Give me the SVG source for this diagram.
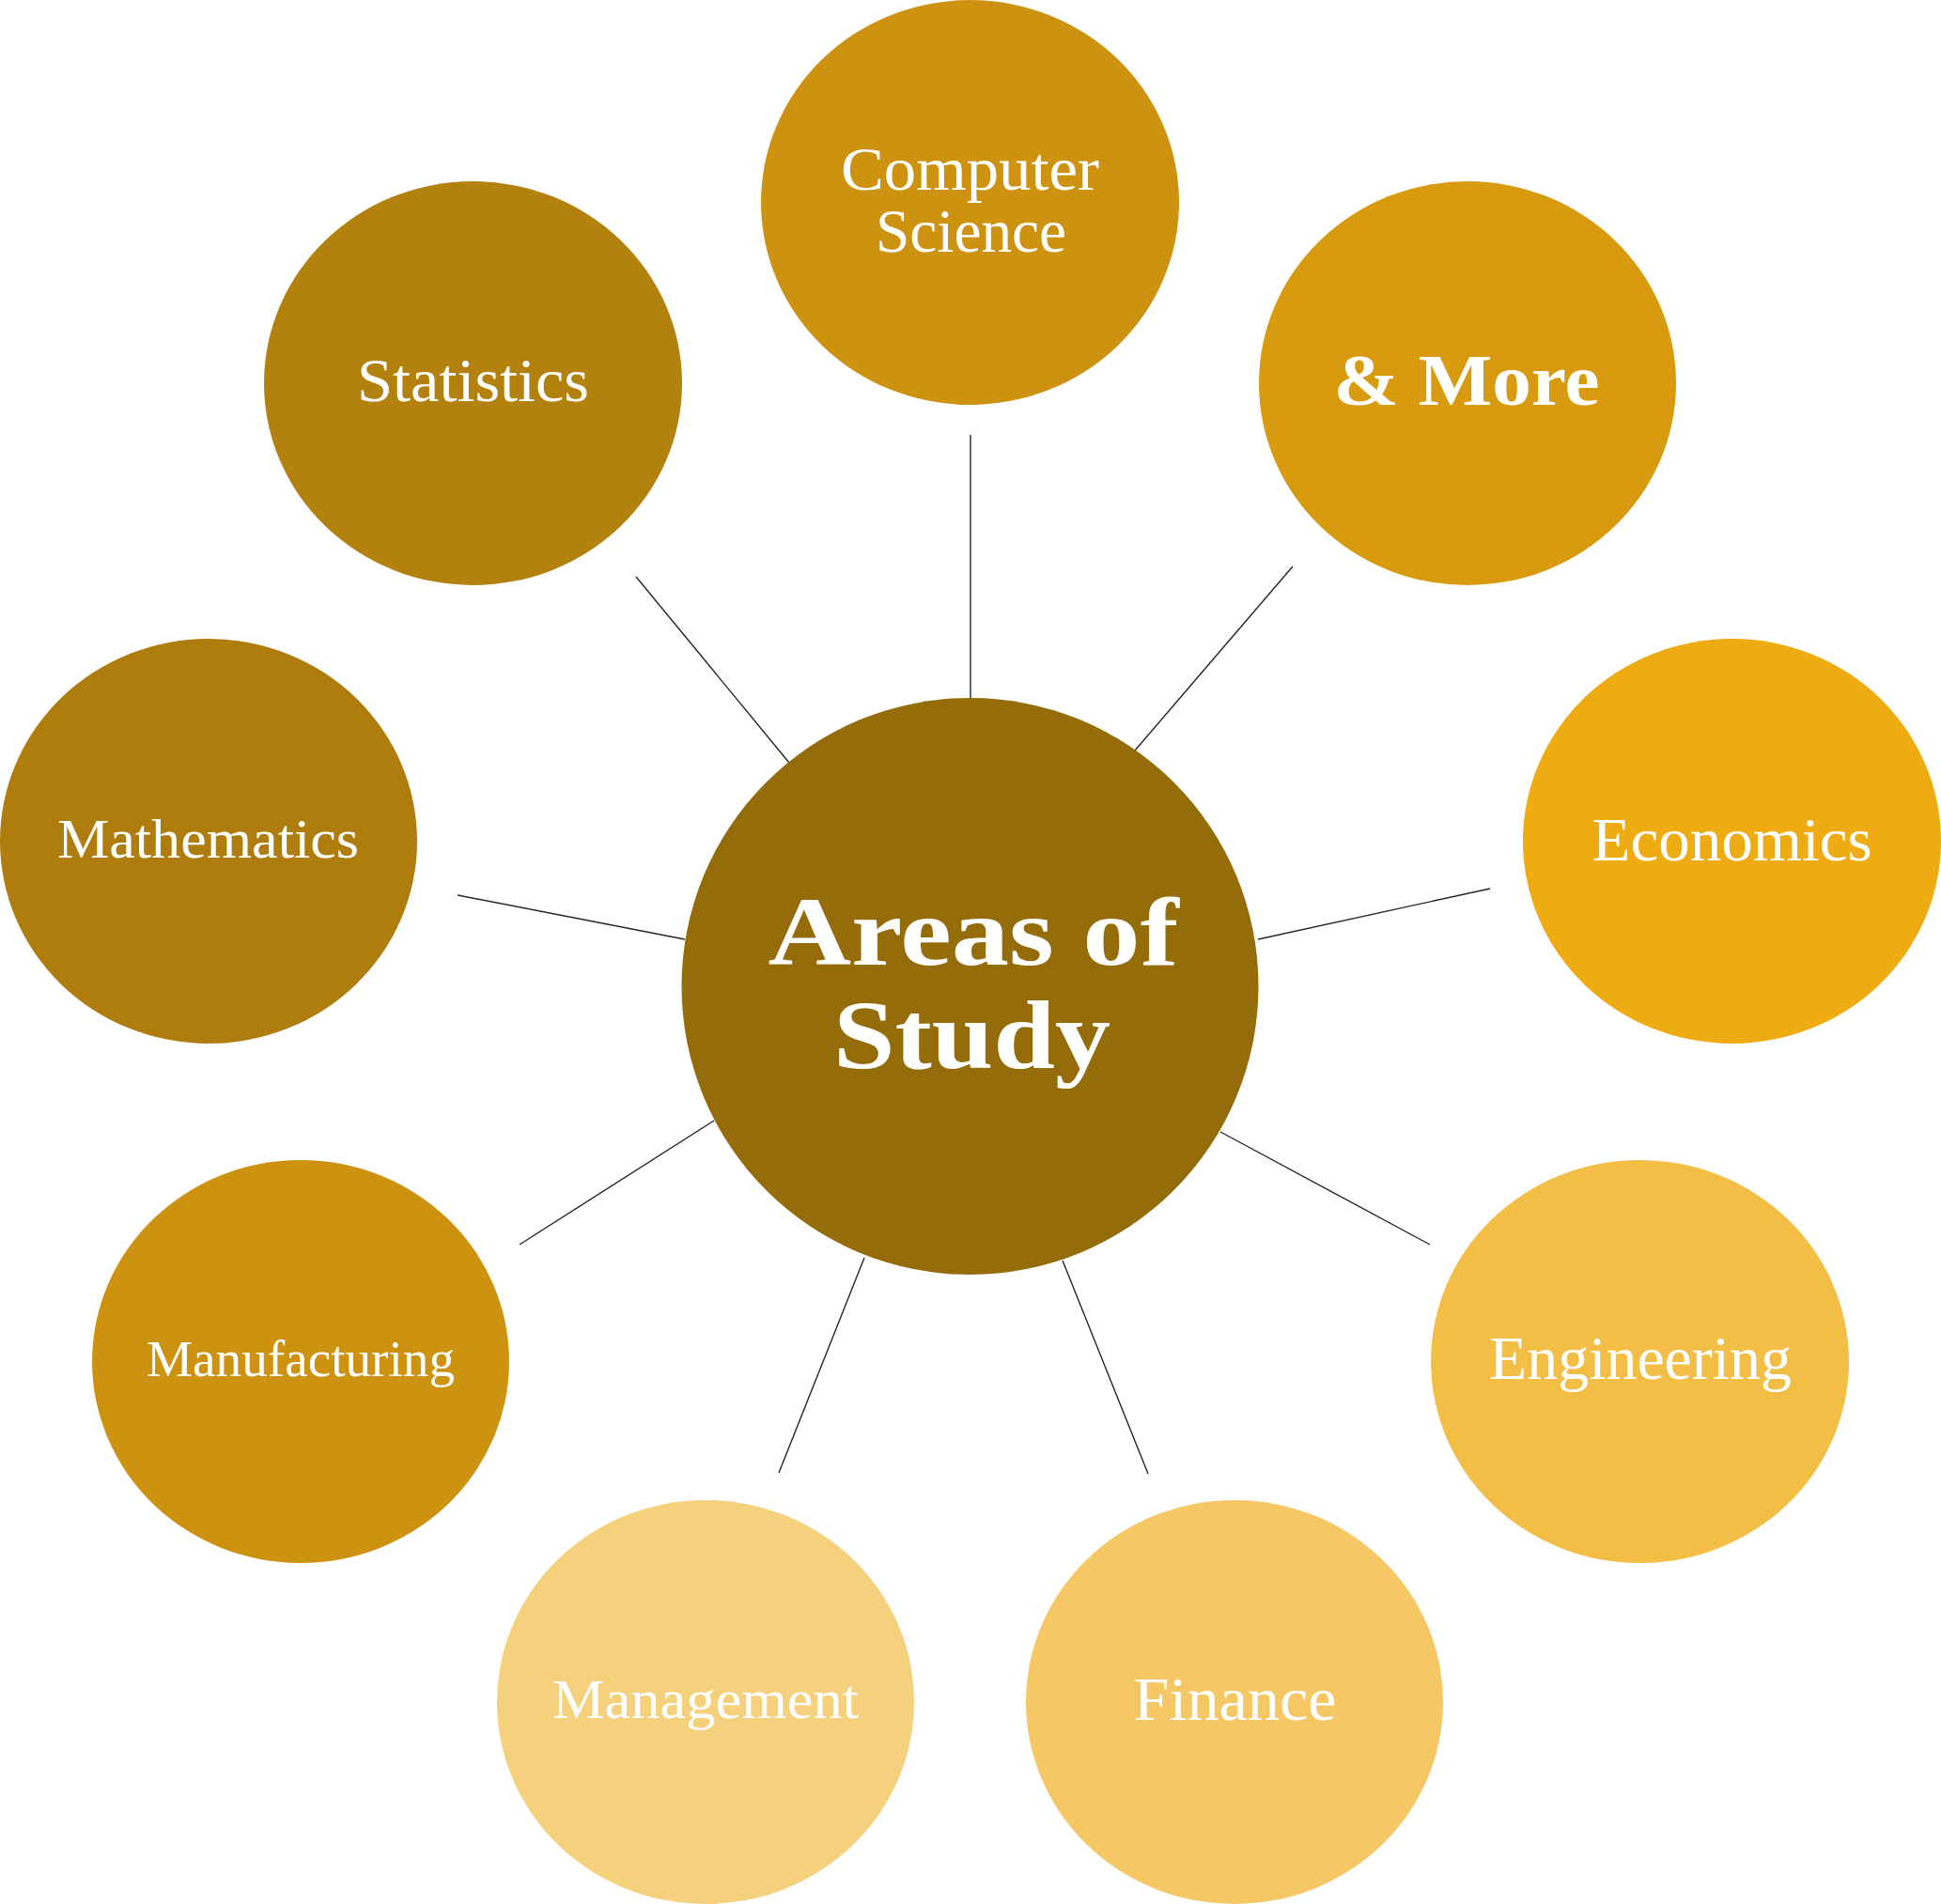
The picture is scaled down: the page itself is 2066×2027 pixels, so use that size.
<svg xmlns="http://www.w3.org/2000/svg" width="2066" height="2027" viewBox="0 0 2066 2027">
<style>
.bg{fill:#ffffff}
.conn line{stroke:#262626;stroke-width:1.4;fill:none}
.lbl{font-family:"Liberation Serif","Times New Roman",serif;fill:#ffffff;text-anchor:middle}
.bold{font-weight:bold}
</style>
<rect class="bg" x="0" y="0" width="2066" height="2027"/>
<g id="connectors" class="conn">
<line x1="1033" y1="463" x2="1033" y2="745"/>
<line x1="1376" y1="603" x2="1208" y2="799"/>
<line x1="1586" y1="946" x2="1339" y2="1000"/>
<line x1="1522" y1="1325" x2="1299" y2="1205"/>
<line x1="1222" y1="1569" x2="1131" y2="1342"/>
<line x1="829" y1="1568" x2="920" y2="1339"/>
<line x1="553" y1="1325" x2="760" y2="1193"/>
<line x1="487" y1="953" x2="729" y2="1000"/>
<line x1="677" y1="614" x2="840" y2="812"/>
</g>
<g id="center">
<circle cx="1032.5" cy="1050" r="307" fill="#956C0A"/>
<text class="lbl bold" x="1036" y="1027" font-size="104" textLength="437" lengthAdjust="spacingAndGlyphs">Areas of</text>
<text class="lbl bold" x="1034.5" y="1137" font-size="104" textLength="295" lengthAdjust="spacingAndGlyphs">Study</text>
</g>
<g id="computer-science">
<ellipse cx="1032.5" cy="215.5" rx="222.5" ry="215.5" fill="#CC9210"/>
<text class="lbl" x="1032.5" y="202" font-size="66" textLength="275" lengthAdjust="spacingAndGlyphs">Computer</text>
<text class="lbl" x="1033.5" y="268" font-size="66" textLength="203" lengthAdjust="spacingAndGlyphs">Science</text>
</g>
<g id="and-more">
<ellipse cx="1562" cy="408" rx="222" ry="215" fill="#D89B10"/>
<text class="lbl bold" x="1561" y="431" font-size="78" textLength="283" lengthAdjust="spacingAndGlyphs">&amp; More</text>
</g>
<g id="economics">
<ellipse cx="1843.5" cy="895.5" rx="222.5" ry="215.5" fill="#EEAC12"/>
<text class="lbl" x="1843.5" y="916" font-size="66" textLength="298" lengthAdjust="spacingAndGlyphs">Economics</text>
</g>
<g id="engineering">
<ellipse cx="1745.5" cy="1449.5" rx="222.5" ry="214.5" fill="#F2BE45"/>
<text class="lbl" x="1746" y="1468" font-size="65" textLength="322" lengthAdjust="spacingAndGlyphs">Engineering</text>
</g>
<g id="finance">
<ellipse cx="1314" cy="1812" rx="222" ry="215" fill="#F5C865"/>
<text class="lbl" x="1314.5" y="1831" font-size="66" textLength="216" lengthAdjust="spacingAndGlyphs">Finance</text>
</g>
<g id="management">
<ellipse cx="751" cy="1812" rx="222" ry="215" fill="#F5D07D"/>
<text class="lbl" x="751" y="1829" font-size="59" textLength="326" lengthAdjust="spacingAndGlyphs">Management</text>
</g>
<g id="manufacturing">
<ellipse cx="320" cy="1449.5" rx="222" ry="214.5" fill="#CC9210"/>
<text class="lbl" x="320" y="1465" font-size="54" textLength="328" lengthAdjust="spacingAndGlyphs">Manufacturing</text>
</g>
<g id="mathematics">
<ellipse cx="222" cy="895.5" rx="222" ry="215.5" fill="#AE7D0E"/>
<text class="lbl" x="221.5" y="913" font-size="60" textLength="321" lengthAdjust="spacingAndGlyphs">Mathematics</text>
</g>
<g id="statistics">
<ellipse cx="503.5" cy="408" rx="222.5" ry="215" fill="#B3810E"/>
<text class="lbl" x="503.5" y="427" font-size="66" textLength="247" lengthAdjust="spacingAndGlyphs">Statistics</text>
</g>
</svg>
